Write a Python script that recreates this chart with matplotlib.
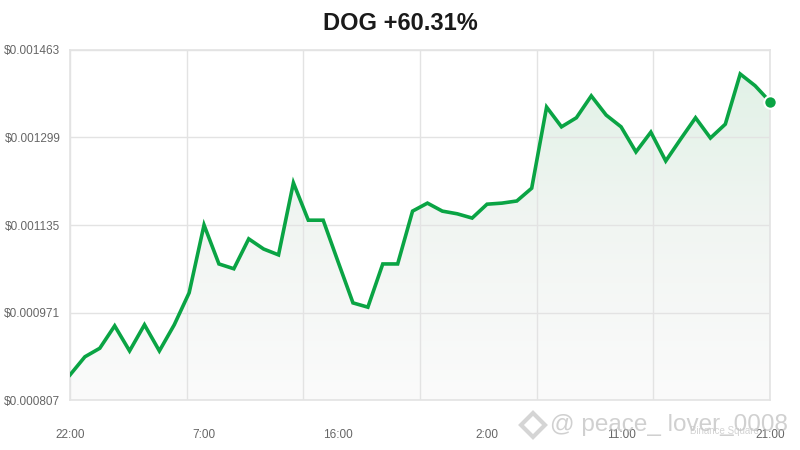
import numpy as np
import matplotlib
matplotlib.use('Agg')
import matplotlib.pyplot as plt
from matplotlib.colors import LinearSegmentedColormap
from matplotlib.patches import RegularPolygon

plt.rcParams['font.family'] = ['Liberation Sans', 'DejaVu Sans']

# hourly prices, 22:00 day 1 -> 21:00 day 3
prices = [0.000854, 0.000888, 0.000904, 0.000946, 0.000899, 0.000948, 0.000899, 0.000948,
          0.001008, 0.001135, 0.001062, 0.001053, 0.001109, 0.001090, 0.001079, 0.001214,
          0.001144, 0.001144, 0.001066, 0.000989, 0.000981, 0.001062, 0.001062, 0.001161,
          0.001176, 0.001161, 0.001156, 0.001148, 0.001174, 0.001176, 0.001180, 0.001204,
          0.001356, 0.001319, 0.001336, 0.001377, 0.001341, 0.001319, 0.001272, 0.001309,
          0.001255, 0.001296, 0.001336, 0.001298, 0.001324, 0.001418, 0.001396, 0.001366]
time_labels = ['22:00', '7:00', '16:00', '2:00', '11:00', '21:00']
label_hours = [0, 9, 18, 28, 37, 47]
y_ticks = [0.000807, 0.000971, 0.001135, 0.001299, 0.001463]
title = 'DOG +60.31%'

hours = np.arange(len(prices))
green = '#0aa444'

fig = plt.figure(figsize=(8, 4.5), dpi=100)
ax = fig.add_axes([0.0875, 0.1111, 0.875, 0.7778])
ymin, ymax = y_ticks[0], y_ticks[-1]
ax.set_xlim(0, hours[-1])
ax.set_ylim(ymin, ymax)

# gradient fill under the line
cmap = LinearSegmentedColormap.from_list('g', ['#fbfbfb', '#f1f5f2', '#dff1e5'])
grad = np.linspace(0, 1, 256).reshape(-1, 1)
img = ax.imshow(grad, cmap=cmap, aspect='auto', origin='lower',
                extent=[0, hours[-1], ymin, ymax], zorder=1)
poly = ax.fill_between(hours, prices, ymin, color='none', lw=0)
img.set_clip_path(poly.get_paths()[0], transform=ax.transData)

ax.plot(hours, prices, color=green, lw=2.6, zorder=3, solid_joinstyle='miter')
ax.plot(hours[-1], prices[-1], 'o', ms=9, color=green, mec='white', mew=1.5,
        zorder=4, clip_on=False)

# grid (6 even columns), time labels on their own hours
ax.xaxis.remove_overlapping_locs = False
ax.set_xticks(np.linspace(0, hours[-1], 7))
ax.set_xticklabels([])
ax.set_xticks(label_hours, minor=True)
ax.set_xticklabels(time_labels, minor=True)
ax.set_yticks(y_ticks)
ax.set_yticklabels(['$%.6f' % v for v in y_ticks])
ax.grid(True, color='#e3e3e3', lw=1, zorder=0)
ax.tick_params(axis='both', which='both', length=0, colors='#666666', labelsize=8.5)
ax.tick_params(axis='x', which='minor', pad=21)
ax.tick_params(axis='y', pad=7)
for s in ax.spines.values():
    s.set_color('#e3e3e3')
    s.set_linewidth(1.2)

fig.text(0.5, 0.948, title, ha='center', va='center', fontsize=17,
         fontweight='bold', color='#1a1a1a')

# watermark
logo = RegularPolygon((533, 25), numVertices=4, radius=12, orientation=0,
                      transform=None, fill=False, ec='#d5d5d5', lw=3, zorder=5)
fig.patches.append(logo)
fig.text(0.688, 0.055, '@ peace_ lover_0008', fontsize=17.5, color='#bdbdbd',
         alpha=0.7, ha='left', va='center', zorder=5)
fig.text(0.862, 0.042, 'Binance Square', fontsize=7, color='#c8c8c8',
         alpha=0.8, ha='left', va='center', zorder=5)

fig.savefig('out.png', dpi=100)
